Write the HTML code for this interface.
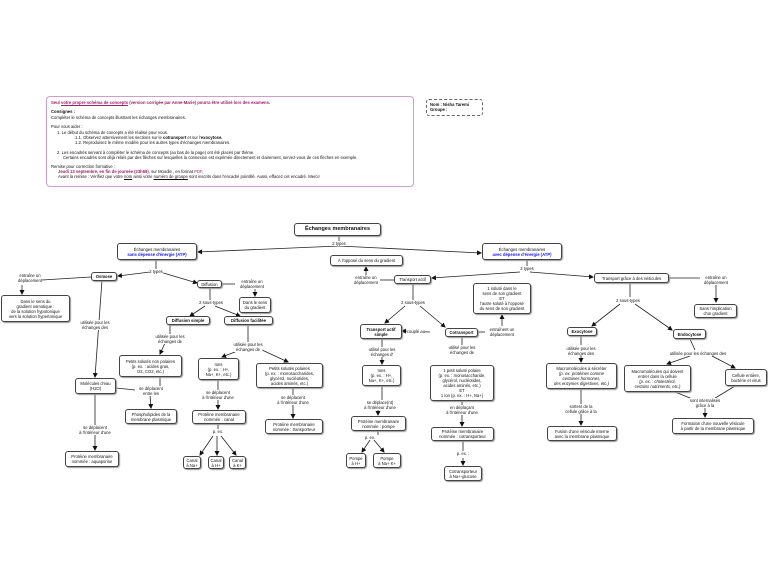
<!DOCTYPE html>
<html><head><meta charset="utf-8">
<style>
html,body{margin:0;padding:0;background:#fff;}
#c{position:relative;width:768px;height:578px;overflow:hidden;font-family:"Liberation Sans",sans-serif;color:#111;}
.b{position:absolute;box-sizing:border-box;border:1px solid #444;border-radius:3px;background:#fff;box-shadow:1px 1px 1px #999;display:flex;align-items:center;justify-content:center;text-align:center;font-size:4.2px;line-height:5px;}
.b>div{width:100%;}
.t{position:absolute;font-size:4.2px;line-height:5px;text-align:center;background:#fff;transform:translateX(-50%);white-space:nowrap;}
.bold{font-weight:bold;}
.blue{color:#1a1aff;font-weight:bold;}
#ins{position:absolute;left:46px;top:96px;width:368px;height:91px;box-sizing:border-box;border:1px solid #c9a0d0;border-radius:4px;font-size:4.2px;line-height:5.4px;padding:3px 4px;}
.m{color:#a0206a;}
svg{position:absolute;left:0;top:0;}
</style></head><body><div id="c">
<div id="ins">
<div class="m bold">Seul <u>votre propre schéma de concepts</u> (version corrigée par Anne-Marie) pourra être utilisé lors des examens.</div>
<div style="height:4px"></div>
<div class="bold">Consignes :</div>
<div>Compléter le schéma de concepts illustrant les échanges membranaires.</div>
<div style="height:4px"></div>
<div>Pour vous aider :</div>
<div style="padding-left:6px">1. Le début du schéma de concepts a été réalisé pour vous.</div>
<div style="padding-left:24px">1.1. Observez attentivement les sections sur le <b>cotransport</b> et sur l'<b>exocytose.</b></div>
<div style="padding-left:24px">1.2. Reproduisez le même modèle pour les autres types d'échanges membranaires.</div>
<div style="height:4px"></div>
<div style="padding-left:6px">2. Les encadrés servant à compléter le schéma de concepts (au bas de la page) ont été placés par thème.</div>
<div style="padding-left:12px">Certains encadrés sont déjà reliés par des flèches sur lesquelles la connexion est exprimée directement et clairement, servez-vous de ces flèches en exemple.</div>
<div style="height:3px"></div>
<div>Remise pour correction formative :</div>
<div style="padding-left:7px"><span class="m bold">Jeudi 13 septembre, en fin de journée (23h59)</span>, sur Moodle , en format <span class="m">PDF</span>,</div>
<div style="padding-left:7px">Avant la remise : Vérifiez que votre <u>nom</u> ainsi votre <u>numéro de groupe</u> sont inscrits dans l'encadré pointillé. Aussi, effacez cet encadré. Merci!</div>
</div>
<div style="position:absolute;left:426px;top:99px;width:57px;height:17px;box-sizing:border-box;border:1px dashed #666;border-radius:3px;font-size:4.2px;line-height:5px;padding:2px 3px;font-weight:bold">Nom : Nisha Taremi<br>Groupe :</div>

<svg width="768" height="578" viewBox="0 0 768 578">
<defs><marker id="a" markerWidth="5" markerHeight="5" refX="4" refY="2.5" orient="auto" markerUnits="userSpaceOnUse"><path d="M0,0 L5,2.5 L0,5z" fill="#111"/></marker></defs>
<g stroke="#222" stroke-width="0.8" fill="none">
<path d="M339,234 V243"/>
<path d="M339,246 L198,252" marker-end="url(#a)"/>
<path d="M339,246 L481,253" marker-end="url(#a)"/>
<path d="M156,260 V270"/>
<path d="M150,272 L118,276" marker-end="url(#a)"/>
<path d="M160,272 L197,283" marker-end="url(#a)"/>
<path d="M91,277 L42,280"/>
<path d="M22,285 V294" marker-end="url(#a)"/>
<path d="M222,284 L235,284"/>
<path d="M255,288 V296" marker-end="url(#a)"/>
<path d="M210,288 V300"/>
<path d="M205,306 L190,316" marker-end="url(#a)"/>
<path d="M215,306 L240,316" marker-end="url(#a)"/>
<path d="M102,280 L95,377" marker-end="url(#a)"/>
<path d="M95,394 V450" marker-end="url(#a)"/>
<path d="M116,388 L135,390"/>
<path d="M170,325 V334"/>
<path d="M165,343 L160,354" marker-end="url(#a)"/>
<path d="M160,377 V386"/>
<path d="M150,395 L151,408" marker-end="url(#a)"/>
<path d="M248,325 V342"/>
<path d="M240,350 L222,357" marker-end="url(#a)"/>
<path d="M262,350 L288,362" marker-end="url(#a)"/>
<path d="M218,380 V390"/>
<path d="M218,400 V409" marker-end="url(#a)"/>
<path d="M293,388 V396"/>
<path d="M293,405 V418" marker-end="url(#a)"/>
<path d="M218,424 V430"/>
<path d="M213,436 L200,455" marker-end="url(#a)"/>
<path d="M217,436 V455" marker-end="url(#a)"/>
<path d="M221,436 L236,455" marker-end="url(#a)"/>
<path d="M527,260 V268"/>
<path d="M520,272 L432,278" marker-end="url(#a)"/>
<path d="M530,272 L593,277" marker-end="url(#a)"/>
<path d="M394,280 L380,280"/>
<path d="M366,276 V267" marker-end="url(#a)"/>
<path d="M413,284 V300"/>
<path d="M405,306 L385,323" marker-end="url(#a)"/>
<path d="M420,306 L445,327" marker-end="url(#a)"/>
<path d="M430,332 L402,331" marker-end="url(#a)"/>
<path d="M478,332 L485,332"/>
<path d="M502,326 V315" marker-end="url(#a)"/>
<path d="M382,339 V347"/>
<path d="M382,356 V364" marker-end="url(#a)"/>
<path d="M462,336 V345"/>
<path d="M382,386 V400"/>
<path d="M378,410 V415" marker-end="url(#a)"/>
<path d="M462,401 V405"/>
<path d="M462,414 V426" marker-end="url(#a)"/>
<path d="M378,431 V435"/>
<path d="M370,440 L362,452" marker-end="url(#a)"/>
<path d="M374,440 L384,452" marker-end="url(#a)"/>
<path d="M463,441 V451"/>
<path d="M463,458 V465" marker-end="url(#a)"/>
<path d="M669,278 L700,278"/>
<path d="M716,284 V302" marker-end="url(#a)"/>
<path d="M630,283 V297"/>
<path d="M620,304 L592,326" marker-end="url(#a)"/>
<path d="M635,304 L672,330" marker-end="url(#a)"/>
<path d="M581,336 V345"/>
<path d="M581,356 V362" marker-end="url(#a)"/>
<path d="M581,389 V404"/>
<path d="M581,413 V425" marker-end="url(#a)"/>
<path d="M690,339 L695,350"/>
<path d="M690,356 L667,364" marker-end="url(#a)"/>
<path d="M712,356 L735,368" marker-end="url(#a)"/>
<path d="M675,392 L695,400"/>
<path d="M735,386 L712,400"/>
<path d="M705,408 V417" marker-end="url(#a)"/>
</g></svg>

<div class="b bold" style="left:294px;top:223px;width:87px;height:13px;font-size:5.5px"><div>Échanges membranaires</div></div>
<div class="b" style="left:117px;top:243px;width:80px;height:17px"><div>Échanges membranaires<br><span class="blue">sans dépense d'énergie (ATP)</span></div></div>
<div class="b" style="left:482px;top:243px;width:80px;height:17px"><div>Échanges membranaires<br><span class="blue">avec dépense d'énergie (ATP)</span></div></div>
<div class="t" style="left:339px;top:241px">2 types</div>
<div class="t" style="left:156px;top:269px">2 types</div>
<div class="t" style="left:527px;top:266px">2 types</div>

<div class="b bold" style="left:91px;top:272px;width:26px;height:9px"><div>Osmose</div></div>
<div class="t" style="left:30px;top:273px">entraîne un<br>déplacement</div>
<div class="b" style="left:1px;top:295px;width:69px;height:27px"><div>Dans le sens du<br>gradient osmotique :<br>de la solution hypotonique<br>vers la solution hypertonique</div></div>
<div class="b" style="left:197px;top:280px;width:25px;height:8px"><div>Diffusion</div></div>
<div class="t" style="left:252px;top:279px">entraîne un<br>déplacement</div>
<div class="b" style="left:239px;top:297px;width:32px;height:16px"><div>Dans le sens<br>du gradient</div></div>
<div class="t" style="left:211px;top:300px">2 sous-types</div>
<div class="b bold" style="left:166px;top:316px;width:44px;height:9px"><div>Diffusion simple</div></div>
<div class="b bold" style="left:224px;top:316px;width:49px;height:9px"><div>Diffusion facilitée</div></div>
<div class="t" style="left:95px;top:320px">utilisée pour les<br>échanges des</div>
<div class="t" style="left:170px;top:334px">utilisée pour les<br>échanges de</div>
<div class="b" style="left:119px;top:355px;width:63px;height:22px"><div>Petits solutés non polaires<br>(p. ex. : acides gras,<br>O2, CO2, etc.)</div></div>
<div class="b" style="left:75px;top:378px;width:41px;height:16px"><div>Molécules d'eau<br>(H2O)</div></div>
<div class="t" style="left:151px;top:386px">se déplacent<br>entre les</div>
<div class="b" style="left:125px;top:409px;width:52px;height:15px"><div>Phospholipides de la<br>membrane plasmique</div></div>
<div class="t" style="left:95px;top:425px">se déplacent<br>à l'intérieur d'une</div>
<div class="b" style="left:65px;top:451px;width:54px;height:16px"><div>Protéine membranaire<br>nommée : aquaporine</div></div>
<div class="t" style="left:248px;top:342px">utilisée pour les<br>échanges de</div>
<div class="b" style="left:198px;top:358px;width:41px;height:22px"><div>Ions<br>(p. ex. : H+,<br>Na+, K+, etc.)</div></div>
<div class="b" style="left:256px;top:363px;width:67px;height:25px"><div>Petits solutés polaires<br>(p. ex. : monosaccharides,<br>glycérol, nucléotides,<br>acides aminés, etc.)</div></div>
<div class="t" style="left:218px;top:390px">se déplacent<br>à l'intérieur d'une</div>
<div class="t" style="left:293px;top:395px">se déplacent<br>à l'intérieur d'une</div>
<div class="b" style="left:192px;top:410px;width:54px;height:14px"><div>Protéine membranaire<br>nommée : canal</div></div>
<div class="b" style="left:265px;top:419px;width:58px;height:15px"><div>Protéine membranaire<br>nommée : transporteur</div></div>
<div class="t" style="left:218px;top:429px">p. ex.</div>
<div class="b" style="left:183px;top:456px;width:18px;height:13px"><div>Canal<br>à Na+</div></div>
<div class="b" style="left:208px;top:456px;width:16px;height:13px"><div>Canal<br>à H+</div></div>
<div class="b" style="left:229px;top:456px;width:17px;height:13px"><div>Canal<br>à K+</div></div>

<div class="b" style="left:330px;top:255px;width:73px;height:11px"><div>À l'opposé du sens du gradient</div></div>
<div class="t" style="left:366px;top:275px">entraîne un<br>déplacement</div>
<div class="b" style="left:394px;top:275px;width:37px;height:9px"><div>Transport actif</div></div>
<div class="t" style="left:413px;top:300px">2 sous-types</div>
<div class="b bold" style="left:360px;top:324px;width:42px;height:15px"><div>Transport actif<br>simple</div></div>
<div class="t" style="left:416px;top:329px">couplé au</div>
<div class="b bold" style="left:445px;top:328px;width:33px;height:9px"><div>Cotransport</div></div>
<div class="t" style="left:502px;top:327px">entraînent un<br>déplacement</div>
<div class="b" style="left:473px;top:283px;width:58px;height:31px"><div>1 soluté dans le<br>sens de son gradient<br>ET<br>l'autre soluté à l'opposé<br>du sens de son gradient</div></div>
<div class="t" style="left:382px;top:347px">utilisé pour les<br>échanges d'</div>
<div class="t" style="left:462px;top:345px">utilisé pour les<br>échanges de</div>
<div class="b" style="left:362px;top:365px;width:39px;height:21px"><div>Ions<br>(p. ex. : H+,<br>Na+, K+, etc.)</div></div>
<div class="b" style="left:430px;top:365px;width:64px;height:36px"><div>1 petit soluté polaire<br>(p. ex. : monosaccharide,<br>glycérol, nucléotides,<br>acides aminés, etc.)<br>ET<br>1 ion (p. ex. : H+, Na+)</div></div>
<div class="t" style="left:380px;top:400px">se déplace(nt)<br>à l'intérieur d'une</div>
<div class="t" style="left:462px;top:405px">en déplaçant<br>à l'intérieur d'une</div>
<div class="b" style="left:351px;top:416px;width:55px;height:15px"><div>Protéine membranaire<br>nommée : pompe</div></div>
<div class="b" style="left:431px;top:427px;width:63px;height:14px"><div>Protéine membranaire<br>nommée : cotransporteur</div></div>
<div class="t" style="left:370px;top:435px">p. ex.</div>
<div class="t" style="left:463px;top:451px">p. ex. :</div>
<div class="b" style="left:346px;top:453px;width:20px;height:15px"><div>Pompe<br>à H+</div></div>
<div class="b" style="left:373px;top:453px;width:28px;height:15px"><div>Pompe<br>à Na+ K+</div></div>
<div class="b" style="left:444px;top:466px;width:38px;height:15px"><div>Cotransporteur<br>à Na+-glucose</div></div>

<div class="b" style="left:594px;top:273px;width:75px;height:10px"><div>Transport grâce à des vésicules</div></div>
<div class="t" style="left:716px;top:275px">entraîne un<br>déplacement</div>
<div class="b" style="left:694px;top:304px;width:43px;height:14px"><div>Sans l'implication<br>d'un gradient</div></div>
<div class="t" style="left:628px;top:298px">2 sous-types</div>
<div class="b bold" style="left:567px;top:327px;width:30px;height:9px"><div>Exocytose</div></div>
<div class="b bold" style="left:673px;top:329px;width:33px;height:10px"><div>Endocytose</div></div>
<div class="t" style="left:581px;top:346px">utilisée pour les<br>échanges des</div>
<div class="t" style="left:698px;top:351px">utilisée pour les échanges des</div>
<div class="b" style="left:546px;top:363px;width:71px;height:26px"><div>Macromolécules à sécréter<br><i>(p. ex. protéines comme<br>certaines hormones,<br>des enzymes digestives, etc.)</i></div></div>
<div class="b" style="left:624px;top:365px;width:67px;height:27px"><div>Macromolécules qui doivent<br>entrer dans la cellule<br><i>(p. ex. : cholestérol,<br>certains nutriments, etc.)</i></div></div>
<div class="b" style="left:725px;top:369px;width:42px;height:17px"><div>Cellule entière,<br>bactérie et virus</div></div>
<div class="t" style="left:581px;top:404px">sortent de la<br>cellule grâce à la</div>
<div class="t" style="left:705px;top:398px">sont internalisés<br>grâce à la</div>
<div class="b" style="left:547px;top:426px;width:70px;height:15px"><div>Fusion d'une vésicule interne<br>avec la membrane plasmique</div></div>
<div class="b" style="left:672px;top:418px;width:82px;height:16px"><div>Formation d'une nouvelle vésicule<br>à partir de la membrane plasmique</div></div>
</div></body></html>
